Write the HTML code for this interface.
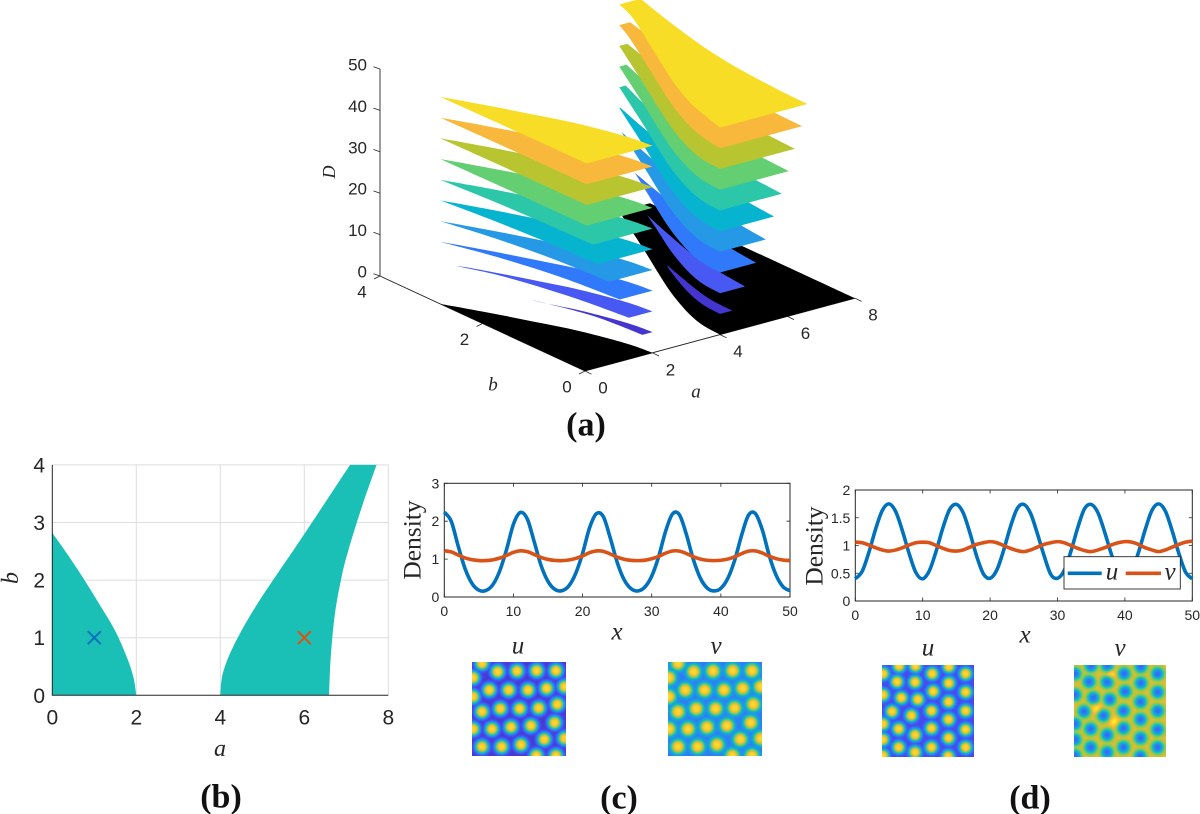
<!DOCTYPE html>
<html lang="en">
<head>
<meta charset="utf-8">
<title>Turing space and density patterns</title>
<style>
html,body{margin:0;padding:0;background:#fff;}
#figure{position:relative;width:1200px;height:814px;overflow:hidden;background:#fff;filter:blur(0.3px);}
#chart{position:absolute;left:0;top:0;}
canvas{position:absolute;display:block;}
text{font-family:"Liberation Sans",sans-serif;fill:#262626;}
.math{font-family:"Liberation Serif",serif;font-style:italic;fill:#262626;}
.serif{font-family:"Liberation Serif",serif;fill:#262626;}
.panel{font-family:"Liberation Serif",serif;font-weight:bold;font-size:34px;fill:#111;}
</style>
</head>
<body>
<div id="figure">
<svg id="chart" width="1200" height="814" viewBox="0 0 1200 814" xmlns="http://www.w3.org/2000/svg">
  <text class="panel" x="586" y="425" text-anchor="middle" dominant-baseline="central">(a)</text>
  <text class="panel" x="221" y="797" text-anchor="middle" dominant-baseline="central">(b)</text>
  <text class="panel" x="619" y="798" text-anchor="middle" dominant-baseline="central">(c)</text>
  <text class="panel" x="1030" y="798" text-anchor="middle" dominant-baseline="central">(d)</text>
  <text class="math" font-size="25" x="518" y="646" text-anchor="middle" dominant-baseline="central">u</text>
  <text class="math" font-size="25" x="716" y="646" text-anchor="middle" dominant-baseline="central">v</text>
  <text class="math" font-size="25" x="928" y="648" text-anchor="middle" dominant-baseline="central">u</text>
  <text class="math" font-size="25" x="1120" y="648" text-anchor="middle" dominant-baseline="central">v</text>
</svg>
<canvas id="heat-c-u" width="94" height="94" style="left:472px;top:662px"></canvas>
<canvas id="heat-c-v" width="94" height="94" style="left:668px;top:662px"></canvas>
<canvas id="heat-d-u" width="92" height="92" style="left:882px;top:665px"></canvas>
<canvas id="heat-d-v" width="92" height="92" style="left:1074px;top:665px"></canvas>
</div>
<script>
/* ---------- region boundaries in the (a,b) plane ---------- */
const leftEdgeA = [2, 1.93, 1.77, 1.49, 1.13, 0.74, 0.34, 0];
const leftEdgeB = [0, 0.32, 0.67, 1.13, 1.57, 2.03, 2.47, 2.82];
const rightInnerA = [4, 4.06, 4.31, 4.79, 5.34, 5.9, 6.69, 7.09];
const rightInnerB = [0, 0.38, 0.85, 1.48, 2.09, 2.69, 3.56, 4];
const rightOuterA = [6.59, 6.63, 6.73, 6.89, 7.05, 7.37, 7.72];
const rightOuterB = [0, 0.67, 1.42, 2.06, 2.52, 3.27, 4];

/* ---------- panel (a): level sets ---------- */
const levelD = [5, 10, 15, 20, 25, 30, 35, 40, 45, 50];
const levelColor = ['#4535d0', '#4858f2', '#3079fb', '#2599e6', '#07b4d0', '#2cc6a8', '#64cf72', '#b8c530', '#f8b83b', '#f7dd26'];
/* how far each level's inner edge sits right of the b-panel edge, at its interior knots */
const levelInnerOffset = [0, 0, 0, 0, 0, 0, 0, 0, 0.05, 0.12];
const leftLowerA = [
  [1.7, 1.54, 1.05],
  [1.3, 1.05, 0.62, 0.155],
  [1.03, 0.825, 0.47, 0],
  [0.72, 0.58, 0.33, 0],
  [0.37, 0.30, 0.17, 0],
  [0.24, 0.19, 0.11, 0],
  [0.05, 0.04, 0.02, 0],
  [0.05, 0.04, 0.02, 0],
  [0.05, 0.04, 0.02, 0],
  [0.05, 0.04, 0.02, 0]
];
const leftLowerB = [
  [0, 0.86, 1.71],
  [0, 1, 2, 2.62],
  [0, 1.03, 1.97, 2.82],
  [0, 1.03, 1.97, 2.82],
  [0, 1.03, 1.97, 2.82],
  [0, 1.03, 1.97, 2.82],
  [0, 1.03, 1.97, 2.82],
  [0, 1.03, 1.97, 2.82],
  [0, 1.03, 1.97, 2.82],
  [0, 1.03, 1.97, 2.82]
];
const levelOuterA = [
  [4.36, 4.45, 4.98],
  [4.74, 4.97, 5.44, 5.79],
  [5.07, 5.25, 5.7, 6.43],
  [5.36, 5.55, 5.95, 6.5, 7.0],
  [5.6, 5.78, 6.08, 6.58, 7.12],
  [5.83, 5.97, 6.2, 6.65, 7.28],
  [6.04, 6.15, 6.35, 6.75, 7.3],
  [6.22, 6.32, 6.5, 6.85, 7.33],
  [6.43, 6.5, 6.68, 7.0, 7.41],
  [6.59, 6.63, 6.73, 6.89, 7.05, 7.37, 7.72]
];
const levelOuterB = [
  [0, 0.6, 1.68],
  [0, 1.03, 1.98, 2.6],
  [0, 0.8, 1.8, 3.26],
  [0, 0.9, 2, 3, 3.9],
  [0, 1, 2, 3, 4],
  [0, 1, 2, 3, 4],
  [0, 1, 2, 3, 4],
  [0, 1, 2, 3, 4],
  [0, 1, 2, 3, 4],
  [0, 0.67, 1.42, 2.06, 2.52, 3.27, 4]
];
const floorRightA = [8, 8];
const floorRightB = [0, 4];
const zTicks3d = [0, 10, 20, 30, 40, 50];
const aTicks3d = [0, 2, 4, 6, 8];
const bTicks3d = [0, 2, 4];

/* ---------- panel (b) ---------- */
const aTicksB = [0, 2, 4, 6, 8];
const bTicksB = [0, 1, 2, 3, 4];
const markerA = [1, 6];
const markerB = [1, 1];
const markerColor = ['#0072BD', '#D95319'];

/* ---------- panel (c) ---------- */
const xSamples = [0,1,2,3,4,5,6,7,8,9,10,11,12,13,14,15,16,17,18,19,20,21,22,23,24,25,26,27,28,29,30,31,32,33,34,35,36,37,38,39,40,41,42,43,44,45,46,47,48,49,50];
const cU = [2.24,2.00,1.35,0.75,0.36,0.18,0.17,0.32,0.68,1.25,1.92,2.23,2.06,1.46,0.83,0.41,0.20,0.165,0.29,0.62,1.15,1.82,2.20,2.12,1.56,0.92,0.46,0.22,0.16,0.26,0.55,1.06,1.73,2.19,2.17,1.66,1.00,0.51,0.24,0.16,0.23,0.49,0.97,1.63,2.16,2.20,1.77,1.09,0.57,0.27,0.165];
const cV = [1.22,1.19,1.11,1.03,0.985,0.962,0.961,0.98,1.025,1.097,1.18,1.219,1.198,1.123,1.044,0.991,0.965,0.96,0.976,1.017,1.084,1.168,1.215,1.205,1.135,1.055,0.997,0.967,0.96,0.972,1.009,1.072,1.156,1.214,1.211,1.148,1.065,1.004,0.97,0.96,0.969,1.001,1.061,1.144,1.21,1.215,1.161,1.076,1.011,0.974,0.96];
const cXTicks = [0, 10, 20, 30, 40, 50];
const cYTicks = [0, 1, 2, 3];

/* ---------- panel (d) ---------- */
const dU = [0.40,0.53,0.87,1.29,1.63,1.75,1.61,1.26,0.85,0.51,0.40,0.55,0.90,1.32,1.65,1.74,1.59,1.23,0.81,0.49,0.41,0.56,0.91,1.33,1.66,1.74,1.58,1.22,0.82,0.48,0.41,0.55,0.90,1.32,1.66,1.74,1.59,1.24,0.84,0.50,0.40,0.53,0.87,1.28,1.63,1.75,1.62,1.27,0.86,0.52,0.40];
const dV = [1.06,1.05,1.01,0.96,0.92,0.90,0.92,0.96,1.01,1.05,1.06,1.05,1.00,0.95,0.91,0.90,0.92,0.97,1.02,1.05,1.07,1.05,1.00,0.95,0.91,0.89,0.92,0.97,1.02,1.05,1.07,1.05,1.00,0.95,0.91,0.89,0.92,0.96,1.01,1.05,1.07,1.06,1.02,0.96,0.92,0.89,0.92,0.97,1.02,1.06,1.08];
const dXTicks = [0, 10, 20, 30, 40, 50];
const dYTicks = [0, 0.5, 1, 1.5, 2];

/* ---------- heatmap spot centres (grid units) ---------- */
const cSpotX = [30,77,135,194,252,3,52,110,168,224,278,3,30,85,143,200,256,3,60,117,177,248,30,89,147,217,278,193,252];
const cSpotY = [4,29,27,26,26,47,84,84,84,79,74,104,149,140,140,138,127,201,201,195,191,182,254,254,248,232,229,281,281];
const dSpotX = [3,51,100,150,200,250,45,99,200,153,250,3,58,107,199,30,88,148,250,199,3,50,99,148,250,3,199,50,148,250,99,198,3];
const dSpotY = [26,3,3,26,5,26,50,51,54,79,81,89,98,103,110,139,151,137,137,163,176,191,209,189,193,223,218,246,246,246,261,273,271];
const dBrightX = [110, 121, 68];
const dBrightY = [26, 169, 131];
const parulaStops = [[62,38,168],[72,72,235],[48,115,250],[36,150,230],[8,181,208],[39,196,170],[100,205,115],[180,196,55],[245,185,60],[250,212,45],[249,251,21]];

const NS = 'http://www.w3.org/2000/svg';
const svg = document.getElementById('chart');

function mk(tag, attrs, parent) {
  const el = document.createElementNS(NS, tag);
  for (const k in attrs) el.setAttribute(k, attrs[k]);
  (parent || svg).appendChild(el);
  return el;
}
function group(name) {
  const g = document.createElementNS(NS, 'g');
  
  
  svg.appendChild(g);
  return g;
}
function fmt(p) { return p[0].toFixed(2) + ' ' + p[1].toFixed(2); }
function curve(pts) {
  let s = '';
  for (let i = 0; i < pts.length - 1; i++) {
    const p0 = pts[Math.max(i - 1, 0)], p1 = pts[i], p2 = pts[i + 1], p3 = pts[Math.min(i + 2, pts.length - 1)];
    const c1 = [p1[0] + (p2[0] - p0[0]) / 6, p1[1] + (p2[1] - p0[1]) / 6];
    const c2 = [p2[0] - (p3[0] - p1[0]) / 6, p2[1] - (p3[1] - p1[1]) / 6];
    s += 'C' + fmt(c1) + ' ' + fmt(c2) + ' ' + fmt(p2);
  }
  return s;
}
function edgePath(edges) {
  let s = '';
  edges.forEach(function (e, i) {
    s += (i === 0 ? 'M' : 'L') + fmt(e[0]) + curve(e);
  });
  return s + 'Z';
}
function zip(xs, ys, fn) { return xs.map(function (x, i) { return fn(x, ys[i]); }); }
/* edge truncated at tip: keep knots below tip b, finish on the tip */
function truncated(edgeA, edgeB, tipA, tipB) {
  const a = [], b = [];
  edgeA.forEach(function (v, i) {
    if (edgeB[i] < tipB - 0.02) { a.push(v); b.push(edgeB[i]); }
  });
  a.push(tipA); b.push(tipB);
  return [a, b];
}

/* ---------- panel (a) axes functions ---------- */
function px3(a, b) { return 585 + 33.75 * a - 51.25 * b; }
function py3(a, b, d) { return 371 - 9.1 * a - 23.75 * b - 4.14 * d; }
function p3(d) { return function (a, b) { return [px3(a, b), py3(a, b, d)]; }; }

const g3 = group('surface-plot-3d');
(function () {
  const zA = mk('line', {x1: px3(0, 4), y1: py3(0, 4, 0), x2: px3(0, 4), y2: py3(0, 4, 50), stroke: '#262626', 'stroke-width': 0.9}, g3);
  
  
  const bA = mk('line', {x1: px3(0, 0), y1: py3(0, 0, 0), x2: px3(0, 4), y2: py3(0, 4, 0), stroke: '#262626', 'stroke-width': 0.9}, g3);
  
  
  const aA = mk('line', {x1: px3(0, 0), y1: py3(0, 0, 0), x2: px3(8, 0), y2: py3(8, 0, 0), stroke: '#262626', 'stroke-width': 0.9}, g3);
  
  

  zTicks3d.forEach(function (z) {
    const x = px3(0, 4), y = py3(0, 4, z);
    const t = mk('line', {x1: x, y1: y, x2: x - 6.5, y2: y - 2.3, stroke: '#262626', 'stroke-width': 0.8}, g3);
    
    
    const l = mk('text', {x: x - 13, y: y - 4, 'font-size': 17, 'text-anchor': 'end', 'dominant-baseline': 'central'}, g3);
    l.textContent = String(z);
    
    
  });
  bTicks3d.forEach(function (v) {
    const x = px3(0, v), y = py3(0, v, 0);
    const t = mk('line', {x1: x, y1: y, x2: x - 6, y2: y + 3, stroke: '#262626', 'stroke-width': 0.8}, g3);
    
    
    const l = mk('text', {x: x - 18, y: y + 16, 'font-size': 17, 'text-anchor': 'middle', 'dominant-baseline': 'central'}, g3);
    l.textContent = String(v);
    
    
  });
  aTicks3d.forEach(function (v) {
    const x = px3(v, 0), y = py3(v, 0, 0);
    const t = mk('line', {x1: x, y1: y, x2: x + 6.5, y2: y + 3.2, stroke: '#262626', 'stroke-width': 0.8}, g3);
    
    
    const l = mk('text', {x: x + 18, y: y + 17, 'font-size': 17, 'text-anchor': 'middle', 'dominant-baseline': 'central'}, g3);
    l.textContent = String(v);
    
    
  });

  const la = mk('text', {class: 'math', x: 696, y: 392, 'font-size': 19, 'text-anchor': 'middle', 'dominant-baseline': 'central'}, g3);
  la.textContent = 'a';
  
  
  const lb = mk('text', {class: 'math', x: 493, y: 385, 'font-size': 19, 'text-anchor': 'middle', 'dominant-baseline': 'central'}, g3);
  lb.textContent = 'b';
  
  
  const ld = mk('text', {class: 'math', x: 329, y: 172, 'font-size': 18, 'text-anchor': 'middle', 'dominant-baseline': 'central', transform: 'rotate(-90 329 172)'}, g3);
  ld.textContent = 'D';
  
  

  /* floor (D = 0) */
  const f = p3(0);
  const floorLeft = mk('path', {fill: '#000', d: edgePath([zip(leftEdgeA, leftEdgeB, f), [f(0, 2.82), f(0, 0)]])}, g3);
  
  
  const rev = zip(rightInnerA, rightInnerB, f).reverse();
  const floorRight = mk('path', {fill: '#000', d: edgePath([zip(floorRightA, floorRightB, f), rev])}, g3);
  
  

  /* coloured levels, lowest first so higher sheets occlude lower ones */
  levelD.forEach(function (D, i) {
    const P = p3(D);
    const low = zip(leftLowerA[i], leftLowerB[i], P);
    const tipIdx = leftLowerA[i].length - 1;
    const up = truncated(leftEdgeA, leftEdgeB, leftLowerA[i][tipIdx], leftLowerB[i][tipIdx]);
    const left = mk('path', {fill: levelColor[i], d: edgePath([zip(up[0], up[1], P), low.slice().reverse()])}, g3);
    
    

    const oA = levelOuterA[i], oB = levelOuterB[i], n = oA.length - 1;
    const innerLevelA = rightInnerA.map(function (v, k) {
      return (k === 0 || k === rightInnerA.length - 1) ? v : v + levelInnerOffset[i];
    });
    const inner = truncated(innerLevelA, rightInnerB, oB[n] >= 4 ? rightInnerA[rightInnerA.length - 1] : oA[n], oB[n]);
    const right = mk('path', {fill: levelColor[i], d: edgePath([zip(oA, oB, P), zip(inner[0], inner[1], P).reverse()])}, g3);
    
    
  });
})();

/* ---------- panel (b) ---------- */
function xB(a) { return 52.3 + 42 * a; }
function yB(b) { return 695.3 - 57.6 * b; }
function pB(a, b) { return [xB(a), yB(b)]; }
const gB = group('parameter-space-plot');
(function () {
  aTicksB.forEach(function (v) {
    if (v === 0) return;
    const g = mk('line', {x1: xB(v), x2: xB(v), y1: yB(0), y2: yB(4), stroke: '#dedede', 'stroke-width': 1}, gB);
    
    
  });
  bTicksB.forEach(function (v) {
    if (v === 0) return;
    const g = mk('line', {x1: xB(0), x2: xB(8), y1: yB(v), y2: yB(v), stroke: '#dedede', 'stroke-width': 1}, gB);
    
    
  });
  const r1 = mk('path', {fill: '#1abfb6', d: edgePath([zip(leftEdgeA, leftEdgeB, pB), [pB(0, 2.82), pB(0, 0)]])}, gB);
  
  
  const r2 = mk('path', {fill: '#1abfb6', d: edgePath([zip(rightOuterA, rightOuterB, pB), zip(rightInnerA, rightInnerB, pB).reverse()])}, gB);
  
  

  const ax = mk('path', {d: 'M' + xB(0) + ' ' + yB(4) + 'L' + xB(0) + ' ' + yB(0) + 'L' + xB(8) + ' ' + yB(0), fill: 'none', stroke: '#262626', 'stroke-width': 1}, gB);
  
  

  aTicksB.forEach(function (v) {
    const l = mk('text', {x: xB(v), y: 718, 'font-size': 21, 'text-anchor': 'middle', 'dominant-baseline': 'central'}, gB);
    l.textContent = String(v);
    
    
  });
  bTicksB.forEach(function (v) {
    const l = mk('text', {x: 45, y: yB(v) + 1, 'font-size': 21, 'text-anchor': 'end', 'dominant-baseline': 'central'}, gB);
    l.textContent = String(v);
    
    
  });
  const ta = mk('text', {class: 'math', x: 220, y: 749, 'font-size': 24, 'text-anchor': 'middle', 'dominant-baseline': 'central'}, gB);
  ta.textContent = 'a';
  
  
  const tb = mk('text', {class: 'math', x: 11, y: 578, 'font-size': 24, 'text-anchor': 'middle', 'dominant-baseline': 'central', transform: 'rotate(-90 11 578)'}, gB);
  tb.textContent = 'b';
  
  

  markerA.forEach(function (a, i) {
    const x = xB(a), y = yB(markerB[i]), r = 6.5;
    const m = mk('path', {d: 'M' + (x - r) + ' ' + (y - r) + 'L' + (x + r) + ' ' + (y + r) + 'M' + (x - r) + ' ' + (y + r) + 'L' + (x + r) + ' ' + (y - r), stroke: markerColor[i], 'stroke-width': 2, fill: 'none'}, gB);
    
    
  });
})();

/* ---------- density plots ---------- */
function lineChart(name, box, xMax, yMax, xTicks, yTicks, seriesU, seriesV, labelOpts) {
  const g = group(name);
  const X = function (v) { return box.x0 + (box.x1 - box.x0) * v / xMax; };
  const Y = function (v) { return box.y0 + (box.y1 - box.y0) * v / yMax; };
  const frame = mk('rect', {x: box.x0, y: box.y1, width: box.x1 - box.x0, height: box.y0 - box.y1, fill: 'none', stroke: '#262626', 'stroke-width': 1}, g);
  
  
  xTicks.forEach(function (v) {
    const t = mk('path', {d: 'M' + X(v) + ' ' + box.y0 + 'v-3.5M' + X(v) + ' ' + box.y1 + 'v3.5', stroke: '#262626', 'stroke-width': 0.8, fill: 'none'}, g);
    
    
    const l = mk('text', {x: X(v), y: labelOpts.xLabelY, 'font-size': 14, 'text-anchor': 'middle', 'dominant-baseline': 'central'}, g);
    l.textContent = String(v);
    
    
  });
  yTicks.forEach(function (v) {
    const t = mk('path', {d: 'M' + box.x0 + ' ' + Y(v) + 'h3.5M' + box.x1 + ' ' + Y(v) + 'h-3.5', stroke: '#262626', 'stroke-width': 0.8, fill: 'none'}, g);
    
    
    const l = mk('text', {x: box.x0 - 5, y: Y(v), 'font-size': 14, 'text-anchor': 'end', 'dominant-baseline': 'central'}, g);
    l.textContent = String(v);
    
    
  });
  const P = function (x, y) { return [X(x), Y(y)]; };
  const uPts = zip(xSamples, seriesU, P);
  const vPts = zip(xSamples, seriesV, P);
  const lu = mk('path', {d: 'M' + fmt(uPts[0]) + curve(uPts), fill: 'none', stroke: '#0072BD', 'stroke-width': 3.6, 'stroke-linejoin': 'round'}, g);
  
  
  const lv = mk('path', {d: 'M' + fmt(vPts[0]) + curve(vPts), fill: 'none', stroke: '#D95319', 'stroke-width': 3.6, 'stroke-linejoin': 'round'}, g);
  
  
  const yt = mk('text', {class: 'serif', x: labelOpts.yTitleX, y: labelOpts.yTitleY, 'font-size': 25.5, 'text-anchor': 'middle', 'dominant-baseline': 'central', transform: 'rotate(-90 ' + labelOpts.yTitleX + ' ' + labelOpts.yTitleY + ')'}, g);
  yt.textContent = 'Density';
  
  
  const xt = mk('text', {class: 'math', x: labelOpts.xTitleX, y: labelOpts.xTitleY, 'font-size': 25, 'text-anchor': 'middle', 'dominant-baseline': 'central'}, g);
  xt.textContent = 'x';
  
  
  return g;
}
lineChart('density-plot-c', {x0: 444.3, x1: 790, y0: 597, y1: 483.3}, 50, 3, cXTicks, cYTicks, cU, cV,
  {xLabelY: 611, yTitleX: 412, yTitleY: 540, xTitleX: 617, xTitleY: 632});
const gD = lineChart('density-plot-d', {x0: 855.3, x1: 1192.3, y0: 601, y1: 490}, 50, 2, dXTicks, dYTicks, dU, dV,
  {xLabelY: 615, yTitleX: 814, yTitleY: 546, xTitleX: 1025, xTitleY: 635});
(function () {
  const box = mk('rect', {x: 1064, y: 556.7, width: 116.3, height: 32.3, fill: '#fff', stroke: '#262626', 'stroke-width': 0.9}, gD);
  
  
  const l1 = mk('line', {x1: 1067.7, x2: 1101.7, y1: 573.3, y2: 573.3, stroke: '#0072BD', 'stroke-width': 3.6}, gD);
  
  
  const t1 = mk('text', {class: 'math', x: 1112, y: 572, 'font-size': 25, 'text-anchor': 'middle', 'dominant-baseline': 'central'}, gD);
  t1.textContent = 'u';
  
  
  const l2 = mk('line', {x1: 1125.7, x2: 1161, y1: 573.3, y2: 573.3, stroke: '#D95319', 'stroke-width': 3.6}, gD);
  
  
  const t2 = mk('text', {class: 'math', x: 1170, y: 572, 'font-size': 25, 'text-anchor': 'middle', 'dominant-baseline': 'central'}, gD);
  t2.textContent = 'v';
  
  
})();

/* ---------- heatmaps ---------- */
function parula(t) {
  t = Math.max(0, Math.min(1, t)) * (parulaStops.length - 1);
  const i = Math.min(Math.floor(t), parulaStops.length - 2), f = t - i;
  const a = parulaStops[i], b = parulaStops[i + 1];
  return [a[0] + (b[0] - a[0]) * f, a[1] + (b[1] - a[1]) * f, a[2] + (b[2] - a[2]) * f];
}
function paintHeat(id, xs, ys, domain, base, amp, radius, power, bx, by) {
  const cv = document.getElementById(id), w = cv.width, h = cv.height;
  const ctx = cv.getContext('2d'), img = ctx.createImageData(w, h);
  for (let j = 0; j < h; j++) {
    for (let i = 0; i < w; i++) {
      const X = (i + 0.5) / w * domain, Y = (j + 0.5) / h * domain;
      let best = 0;
      for (let k = 0; k < xs.length; k++) {
        const dx = X - xs[k], dy = Y - ys[k];
        const g = Math.exp(-Math.pow(Math.sqrt(dx * dx + dy * dy) / radius, power));
        if (g > best) best = g;
      }
      let val = base + amp * best;
      if (bx) {
        for (let k = 0; k < bx.length; k++) {
          const dx = X - bx[k], dy = Y - by[k];
          val += 0.2 * Math.exp(-(dx * dx + dy * dy) / (2 * 100));
        }
      }
      const c = parula(val), o = (j * w + i) * 4;
      img.data[o] = c[0]; img.data[o + 1] = c[1]; img.data[o + 2] = c[2]; img.data[o + 3] = 255;
    }
  }
  ctx.putImageData(img, 0, 0);
}
paintHeat('heat-c-u', cSpotX, cSpotY, 282, 0.06, 0.86, 20, 3);
paintHeat('heat-c-v', cSpotX, cSpotY, 282, 0.23, 0.69, 21, 3);
paintHeat('heat-d-u', dSpotX, dSpotY, 275, 0.1, 0.82, 18.5, 3);
paintHeat('heat-d-v', dSpotX, dSpotY, 275, 0.78, -0.6, 19, 2.5, dBrightX, dBrightY);
</script>
</body>
</html>
